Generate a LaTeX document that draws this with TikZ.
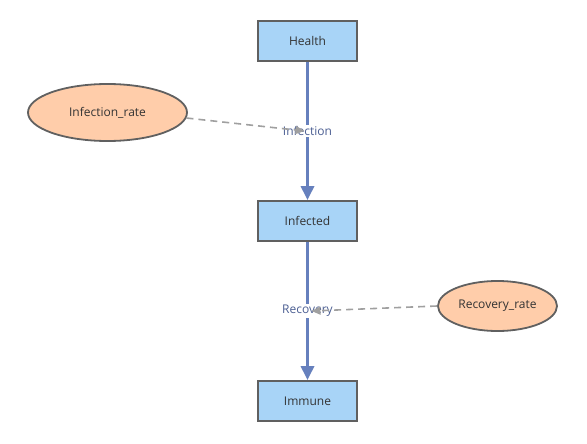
\documentclass[tikz,border=0pt]{standalone}
\usepackage{fontspec}
\setmainfont{Open Sans}
\usetikzlibrary{arrows.meta, shapes.geometric}
\definecolor{stockfill}{HTML}{A8D4F7}
\definecolor{edgegray}{HTML}{606060}
\definecolor{auxfill}{HTML}{FFCDAA}
\definecolor{flowblue}{HTML}{6680BD}
\definecolor{flowtext}{HTML}{4C5F93}
\definecolor{linkgray}{HTML}{A0A0A0}
\tikzset{
	stock/.style = {draw=edgegray, line width=1.8pt, fill=stockfill, minimum width=99pt, minimum height=40pt, inner sep=0pt, font=\fontsize{12}{14}\selectfont, text=black!80},
	aux/.style = {ellipse, draw=edgegray, line width=1.8pt, fill=auxfill, inner sep=0pt, font=\fontsize{12}{14}\selectfont, text=black!80},
	flow/.style = {draw=flowblue, line width=3.2pt, -{Triangle[length=14pt, width=13pt]}},
	rate/.style = {fill=white, inner sep=1pt, text=flowtext, font=\fontsize{12}{14}\selectfont},
	link/.style = {draw=linkgray, line width=1.6pt, dash pattern=on 7pt off 5pt, -{Triangle[length=9pt, width=8pt]}}
}

\begin{document}
\begin{tikzpicture}[x=1pt, y=-1pt]
	\useasboundingbox (0,0) rectangle (587,444);
	\node [stock] (health) at (307.5,41) {Health};
	\node [stock] (infected) at (307.5,221) {Infected};
	\node [stock] (immune) at (307.5,401) {Immune};
	\node [aux, minimum width=159pt, minimum height=57pt] (infrate) at (107.5,112.5) {Infection\_rate};
	\node [aux, minimum width=119pt, minimum height=50pt] (recrate) at (497.5,306) {Recovery\_rate};
	% flows between the stocks
	\draw [flow] (health) -- (infected) node [rate, pos=.5] (infection) {Infection};
	\draw [flow] (infected) -- (immune) node [rate, pos=.5] (recovery) {Recovery};
	% links from the rates
	\draw [link] (infrate.-4) -- ([xshift=-3pt]infection.center);
	\draw [link] (recrate.west) -- ([xshift=4pt]recovery.center);
\end{tikzpicture}
\end{document}
